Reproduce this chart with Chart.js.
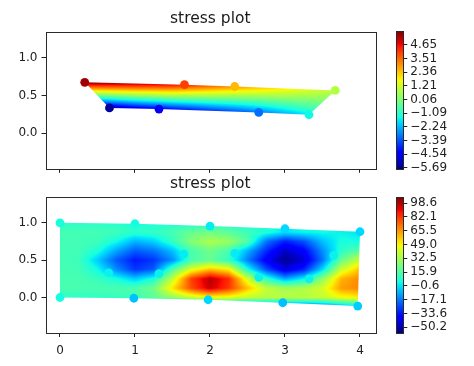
<!DOCTYPE html>
<html>
<head>
<meta charset="utf-8">
<script src="https://cdn.jsdelivr.net/npm/chart.js@4/dist/chart.umd.min.js"></script>
<style>
    html, body { margin: 0; padding: 0; background: #ffffff; }
    canvas { position: absolute; }
</style>
</head>
<body>
<canvas id="plot-top" style="left:0px;top:0px" width="380" height="180"></canvas>
<canvas id="plot-bottom" style="left:0px;top:165px" width="380" height="201"></canvas>
<canvas id="bar-top" style="left:385px;top:20px" width="89" height="160"></canvas>
<canvas id="bar-bottom" style="left:385px;top:186px" width="89" height="160"></canvas>
<script>
var titleText = 'stress plot';
var xTicks = [0, 1, 2, 3, 4];
var yTicks = [0, 0.5, 1];
var yTickLabels = ['0.0', '0.5', '1.0'];
var xMin = -0.193, xMax = 4.2;

// upper plot
var topPointX = [0.33, 0.66, 1.32, 1.66, 2.33, 2.65, 3.32, 3.67];
var topPointY = [0.675, 0.335, 0.32, 0.644, 0.62, 0.275, 0.244, 0.568];
var topPointValue = [5.5, -5.5, -4.6, 4.0, 2.5, -3.1, -1.5, 0.8];
var topOutlineX = [0.33, 1.66, 2.33, 3.67, 3.32, 2.65, 1.32, 0.66];
var topOutlineY = [0.675, 0.644, 0.62, 0.568, 0.244, 0.275, 0.32, 0.335];
var topFieldX = [0, 0.5, 1, 1.5, 2, 2.5, 3, 3.5, 4];
var topFieldY = [0.75, 0.5, 0.25];
var topField = [
    [8.4, 8.2, 7.8, 7.4, 6.2, 5.0, 3.8, 2.3, 0.9],
    [-0.9, -0.2, 0.35, 0.7, 0.7, 0.64, 0.7, 0.6, 0.3],
    [-10.2, -8.5, -7.1, -6.0, -4.8, -3.7, -2.4, -1.2, -0.35]
];
var topBarTicks = [-5.69, -4.54, -3.39, -2.24, -1.09, 0.06, 1.21, 2.36, 3.51, 4.65];
var topBarMin = -5.8, topBarMax = 5.82;

// lower plot
var bottomPointX = [0, 1, 2, 3, 4, 0, 0.985, 1.975, 2.97, 3.97, 0.65, 1.32, 1.65, 2.33, 2.65, 3.32, 3.65];
var bottomPointY = [1, 0.987, 0.956, 0.92, 0.88, 0, -0.01, -0.03, -0.07, -0.115, 0.33, 0.32, 0.58, 0.59, 0.27, 0.25, 0.565];
var bottomPointValue = [5, 4, 1, -2, -2, 4, -6, -2, -6, -4, 2, 2, 1, 1, 2, 2, 2];
var bottomOutlineX = [0, 1, 2, 3, 4, 3.97, 2.97, 1.975, 0.985, 0];
var bottomOutlineY = [1, 0.987, 0.956, 0.92, 0.88, -0.115, -0.07, -0.03, -0.01, 0];
var bottomFieldX = [0, 0.25, 0.5, 0.75, 1, 1.25, 1.5, 1.75, 2, 2.25, 2.5, 2.75, 3, 3.25, 3.5, 3.75, 4];
var bottomFieldY = [1, 0.875, 0.75, 0.625, 0.5, 0.375, 0.25, 0.125, 0, -0.125];
var bottomField = [
    [9, 9, 9, 8, 6, 6, 6, 6, 6, 6, 4, 4, 2, 2, 2, 2, 2],
    [13, 13, 13, 12, 9, 10, 14, 20, 22, 18, 12, 7, 0, 3, 4, 2, 0],
    [13, 13, 12, 4, -8, -3, 10, 26, 34, 30, 16, -18, -32, -24, -6, 5, 4],
    [13, 13, 6, -10, -22, -18, -6, 14, 22, 14, -8, -30, -47, -38, -14, 8, 18],
    [13, 12, -4, -22, -33, -28, -14, 14, 20, 10, -16, -39, -54, -45, -18, 20, 40],
    [13, 13, 4, -14, -28, -22, 16, 44, 58, 50, 6, -24, -43, -32, -2, 40, 58],
    [14, 14, 11, 5, -4, 6, 38, 80, 98, 84, 42, 10, -10, 2, 28, 60, 68],
    [14, 14, 14, 14, 15, 22, 52, 78, 95, 82, 58, 38, 32, 34, 42, 64, 68],
    [9, 10, 10, 11, 12, 18, 28, 38, 46, 44, 38, 36, 36, 36, 38, 46, 50],
    [-10, -10, -20, -20, -30, -30, -30, -30, -30, -30, -30, -30, -30, -30, -25, -15, -5]
];
var bottomBarTicks = [-50.2, -33.6, -17.1, -0.6, 15.9, 32.5, 49.0, 65.5, 82.1, 98.6];
var bottomBarMin = -57, bottomBarMax = 105.8;

function lerpTable(f, table) {
    if (f <= table[0][0]) return table[0][1];
    for (var i = 1; i < table.length; i++) {
        if (f <= table[i][0]) {
            var t = (f - table[i - 1][0]) / (table[i][0] - table[i - 1][0]);
            return table[i - 1][1] + t * (table[i][1] - table[i - 1][1]);
        }
    }
    return table[table.length - 1][1];
}

// jet colormap, returns [r, g, b]
function jet(f) {
    var r = lerpTable(f, [[0.35, 0], [0.66, 1], [0.89, 1], [1, 0.5]]);
    var g = lerpTable(f, [[0.125, 0], [0.375, 1], [0.64, 1], [0.91, 0]]);
    var b = lerpTable(f, [[0, 0.5], [0.11, 1], [0.34, 1], [0.65, 0]]);
    return [Math.round(r * 255), Math.round(g * 255), Math.round(b * 255)];
}

function jetCss(value, vmin, vmax) {
    var c = jet((value - vmin) / (vmax - vmin));
    return 'rgb(' + c[0] + ',' + c[1] + ',' + c[2] + ')';
}

function cellIndex(list, v) {
    var asc = list[list.length - 1] > list[0];
    for (var i = 0; i < list.length - 1; i++) {
        if (asc ? v <= list[i + 1] : v >= list[i + 1]) return i;
    }
    return list.length - 2;
}

function sampleField(o, x, y) {
    var i = cellIndex(o.xs, x);
    var j = cellIndex(o.ys, y);
    var tx = Math.min(1, Math.max(0, (x - o.xs[i]) / (o.xs[i + 1] - o.xs[i])));
    var ty = Math.min(1, Math.max(0, (y - o.ys[j]) / (o.ys[j + 1] - o.ys[j])));
    var a = o.grid[j][i] * (1 - tx) + o.grid[j][i + 1] * tx;
    var b = o.grid[j + 1][i] * (1 - tx) + o.grid[j + 1][i + 1] * tx;
    return a * (1 - ty) + b * ty;
}

// paints the field behind the points, clipped to the mesh outline
var fieldPlugin = {
    id: 'stressField',
    beforeDatasetsDraw: function (chart, args, o) {
        if (!o.grid) return;
        var area = chart.chartArea;
        var x0 = Math.floor(area.left), y0 = Math.floor(area.top);
        var w = Math.ceil(area.width), h = Math.ceil(area.height);
        var off = document.createElement('canvas');
        off.width = w;
        off.height = h;
        var offCtx = off.getContext('2d');
        var img = offCtx.createImageData(w, h);
        for (var py = 0; py < h; py++) {
            var y = chart.scales.y.getValueForPixel(y0 + py + 0.5);
            for (var px = 0; px < w; px++) {
                var x = chart.scales.x.getValueForPixel(x0 + px + 0.5);
                var c = jet((sampleField(o, x, y) - o.vmin) / (o.vmax - o.vmin));
                var k = (py * w + px) * 4;
                img.data[k] = c[0];
                img.data[k + 1] = c[1];
                img.data[k + 2] = c[2];
                img.data[k + 3] = 255;
            }
        }
        offCtx.putImageData(img, 0, 0);
        var ctx = chart.ctx;
        ctx.save();
        ctx.beginPath();
        for (var i = 0; i < o.outlineX.length; i++) {
            var ox = chart.scales.x.getPixelForValue(o.outlineX[i]);
            var oy = chart.scales.y.getPixelForValue(o.outlineY[i]);
            if (i == 0) ctx.moveTo(ox, oy); else ctx.lineTo(ox, oy);
        }
        ctx.closePath();
        ctx.clip();
        ctx.drawImage(off, x0, y0);
        ctx.restore();
    }
};

var framePlugin = {
    id: 'axesFrame',
    afterDraw: function (chart) {
        var area = chart.chartArea;
        var ctx = chart.ctx;
        ctx.save();
        ctx.strokeStyle = '#2a2a2a';
        ctx.lineWidth = 1;
        ctx.strokeRect(Math.round(area.left) + 0.5, Math.round(area.top) + 0.5,
            Math.round(area.width), Math.round(area.height));
        ctx.restore();
    }
};

var colorStripPlugin = {
    id: 'colorStrip',
    beforeDatasetsDraw: function (chart, args, o) {
        var area = chart.chartArea;
        var ctx = chart.ctx;
        for (var py = Math.floor(area.top); py < Math.ceil(area.bottom); py++) {
            var v = chart.scales.y.getValueForPixel(py + 0.5);
            ctx.fillStyle = jetCss(v, o.vmin, o.vmax);
            ctx.fillRect(area.left, py, area.width, 1);
        }
    }
};

function initializeStressPlot(canvasId, pointX, pointY, pointValue, field, fieldX, fieldY, outlineX, outlineY, vmin, vmax, showLabels, titleTop, titleBottom, bottomPad) {
    var points = [];
    var colors = [];
    for (var i = 0; i < pointX.length; i++) {
        points.push({ x: pointX[i], y: pointY[i] });
        colors.push(jetCss(pointValue[i], vmin, vmax));
    }

    var ctx = document.getElementById(canvasId).getContext('2d');
    return new Chart(ctx, {
        type: 'scatter',
        data: {
            datasets: [{
                data: points,
                backgroundColor: colors,
                borderWidth: 0,
                pointRadius: 4.4
            }]
        },
        plugins: [fieldPlugin, framePlugin],
        options: {
            responsive: false,
            animation: false,
            layout: { padding: { left: 0, right: 5, bottom: bottomPad, top: 0 } },
            scales: {
                x: {
                    type: 'linear',
                    min: xMin,
                    max: xMax,
                    afterBuildTicks: function (scale) {
                        scale.ticks = xTicks.map(function (v) { return { value: v }; });
                    },
                    afterFit: function (scale) { scale.height = showLabels ? 33 : 6; },
                    grid: { drawOnChartArea: false, tickLength: 4, color: '#222222' },
                    border: { display: false },
                    ticks: {
                        display: showLabels,
                        color: '#222222',
                        font: { family: 'DejaVu Sans', size: 12 },
                        maxRotation: 0,
                        padding: 7,
                        callback: function (v) { return String(v); }
                    }
                },
                y: {
                    type: 'linear',
                    min: -0.475,
                    max: 1.345,
                    afterBuildTicks: function (scale) {
                        scale.ticks = yTicks.map(function (v) { return { value: v }; });
                    },
                    afterFit: function (scale) { scale.width = 45.5; },
                    grid: { drawOnChartArea: false, tickLength: 4, color: '#222222' },
                    border: { display: false },
                    ticks: {
                        color: '#222222',
                        font: { family: 'DejaVu Sans', size: 12 },
                        padding: 4,
                        callback: function (v, i) { return yTickLabels[i]; }
                    }
                }
            },
            plugins: {
                legend: { display: false },
                tooltip: { enabled: false },
                title: {
                    display: true,
                    fullSize: false,
                    text: titleText,
                    color: '#1a1a1a',
                    font: { family: 'DejaVu Sans', size: 15.5, weight: 'normal' },
                    padding: { top: titleTop, bottom: titleBottom }
                },
                stressField: {
                    grid: field,
                    xs: fieldX,
                    ys: fieldY,
                    outlineX: outlineX,
                    outlineY: outlineY,
                    vmin: vmin,
                    vmax: vmax
                }
            }
        }
    });
}

function initializeColorBar(canvasId, barTicks, vmin, vmax, decimals, topPad, bottomPad) {
    var ctx = document.getElementById(canvasId).getContext('2d');
    return new Chart(ctx, {
        type: 'scatter',
        data: { datasets: [{ data: [], pointRadius: 0 }] },
        plugins: [colorStripPlugin, framePlugin],
        options: {
            responsive: false,
            animation: false,
            layout: { padding: { left: 11, right: 0, top: topPad, bottom: bottomPad } },
            scales: {
                x: { type: 'linear', display: false, min: 0, max: 1 },
                y: {
                    type: 'linear',
                    position: 'right',
                    min: vmin,
                    max: vmax,
                    afterBuildTicks: function (scale) {
                        scale.ticks = barTicks.map(function (v) { return { value: v }; });
                    },
                    afterFit: function (scale) { scale.width = 70.7; },
                    grid: { drawOnChartArea: false, tickLength: 4, color: '#222222' },
                    border: { display: false },
                    ticks: {
                        color: '#222222',
                        font: { family: 'DejaVu Sans', size: 12 },
                        padding: 3,
                        autoSkip: false,
                        callback: function (v, i) {
                            return barTicks[i].toFixed(decimals).replace('-', '\u2212');
                        }
                    }
                }
            },
            plugins: {
                legend: { display: false },
                tooltip: { enabled: false },
                title: { display: false },
                colorStrip: { vmin: vmin, vmax: vmax }
            }
        }
    });
}

initializeStressPlot('plot-top', topPointX, topPointY, topPointValue, topField, topFieldX, topFieldY,
    topOutlineX, topOutlineY, topBarMin, topBarMax, false, 9.7, 3.7, 1);
initializeStressPlot('plot-bottom', bottomPointX, bottomPointY, bottomPointValue, bottomField, bottomFieldX, bottomFieldY,
    bottomOutlineX, bottomOutlineY, bottomBarMin, bottomBarMax, true, 9.2, 4.2, 0);
initializeColorBar('bar-top', topBarTicks, topBarMin, topBarMax, 2, 11, 11);
initializeColorBar('bar-bottom', bottomBarTicks, bottomBarMin, bottomBarMax, 1, 11, 13);
</script>
</body>
</html>
